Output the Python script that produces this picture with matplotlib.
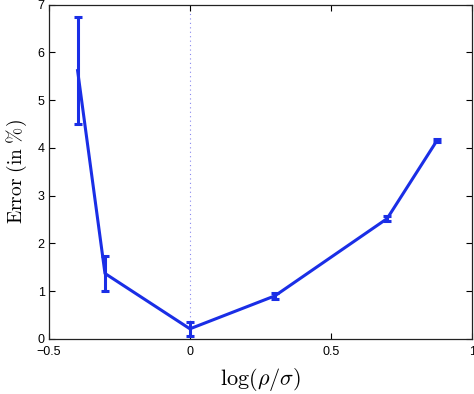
import numpy as np
import matplotlib
matplotlib.use("Agg")
import matplotlib.pyplot as plt

plt.rcParams['mathtext.fontset'] = 'cm'
plt.rcParams['font.family'] = ['Liberation Sans', 'DejaVu Sans']

x_vals = [-0.398, -0.301, 0.0, 0.301, 0.699, 0.875]
err_mean = [5.62, 1.37, 0.21, 0.90, 2.52, 4.15]
err_std = [1.12, 0.36, 0.15, 0.07, 0.05, 0.03]
xticks = [-0.5, 0, 0.5, 1]
xticklabels = ['\u22120.5', '0', '0.5', '1']
yticks = [0, 1, 2, 3, 4, 5, 6, 7]

fig = plt.figure(figsize=(4.74, 3.94), dpi=100)
ax = fig.add_axes([0.103, 0.140, 0.893, 0.848])

ax.axvline(0, color='#8888ee', linestyle=(0, (1, 3)), linewidth=0.8, zorder=1)
ax.errorbar(x_vals, err_mean, yerr=err_std, color='#1a2ee6', linewidth=2.2,
            elinewidth=2.2, capsize=3, capthick=2.2, zorder=3)

ax.set_xlim(-0.5, 1)
ax.set_ylim(0, 7)
ax.set_xticks(xticks)
ax.set_xticklabels(xticklabels)
ax.set_yticks(yticks)
ax.tick_params(direction='in', length=4, width=0.8, labelsize=9,
               top=True, right=True)
ax.tick_params(axis='x', pad=5)
ax.tick_params(axis='y', pad=3)
for s in ax.spines.values():
    s.set_linewidth(0.9)
    s.set_color('#222222')

ax.set_xlabel(r'$\log(\rho/\sigma)$', fontsize=16, labelpad=6)
ax.set_ylabel(r'$\mathrm{Error\ (in\ \%)}$', fontsize=14, labelpad=6)

fig.savefig('out.png', dpi=100)
